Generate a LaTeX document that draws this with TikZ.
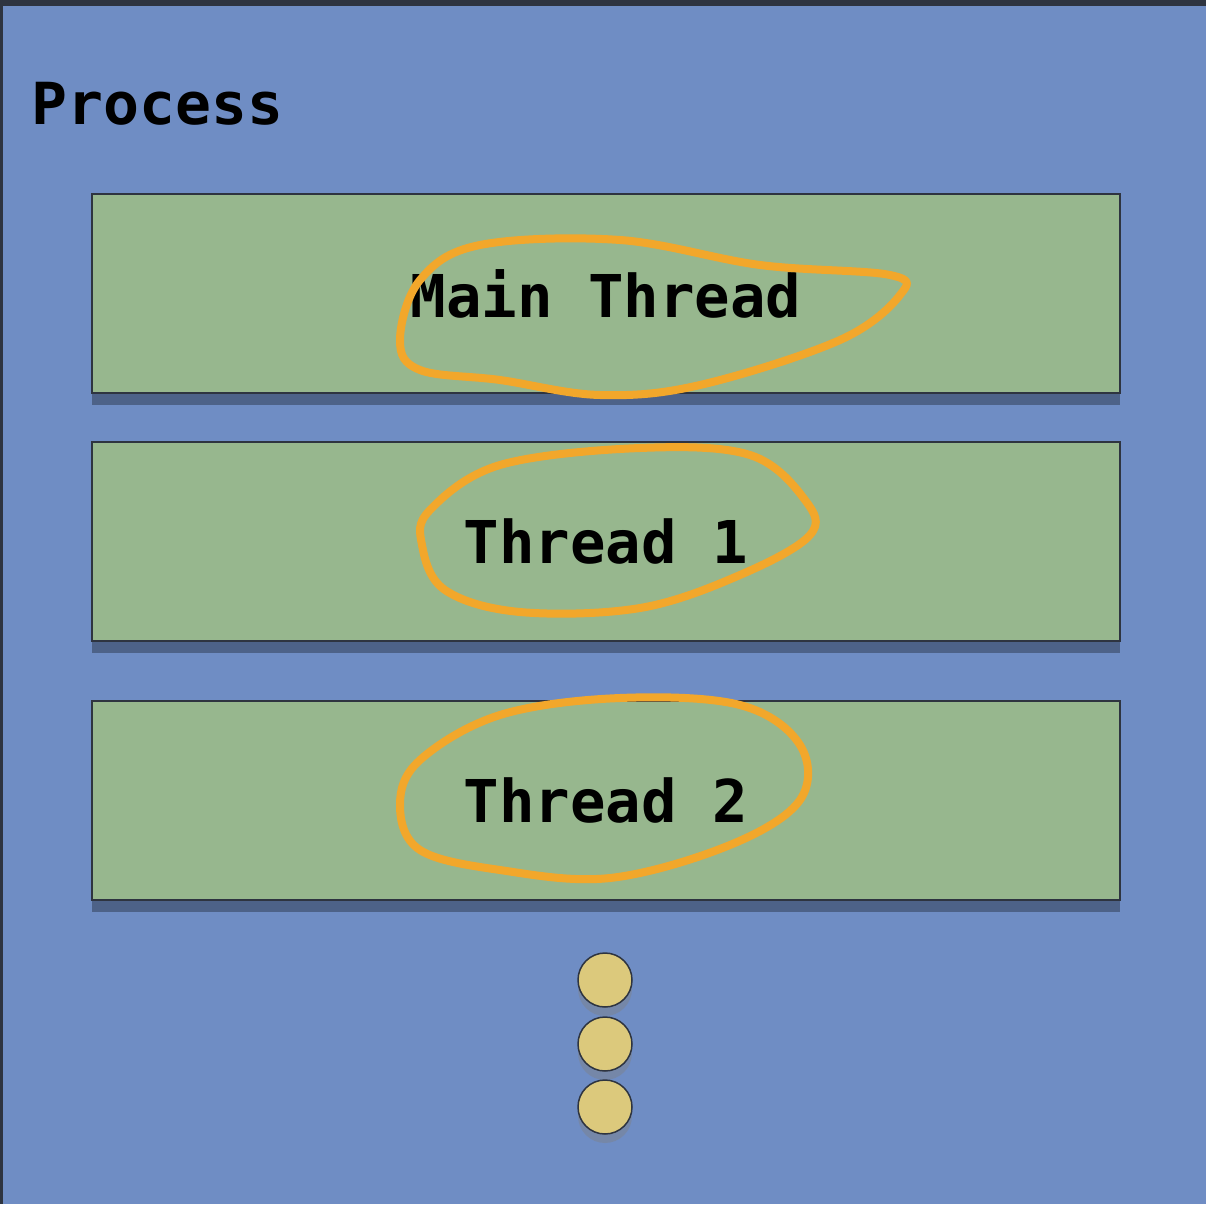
\documentclass[tikz,border=0pt]{standalone}
\usepackage{fontspec}
\setmonofont{DejaVu Sans Mono}
\usetikzlibrary{shadows}
\definecolor{bgblue}{HTML}{6F8DC4}
\definecolor{boxgreen}{HTML}{97B78E}
\definecolor{edge}{HTML}{2E3440}
\definecolor{scrib}{HTML}{F2A72B}
\definecolor{dotc}{HTML}{DCC97C}
\begin{document}
\begin{tikzpicture}[x=1pt,y=-1pt,
  thr/.style={draw=edge,line width=1.5pt,fill=boxgreen,minimum width=1028pt,minimum height=199pt,inner sep=0pt,
    drop shadow={shadow xshift=0pt,shadow yshift=-12pt,opacity=0.3,fill=black},
    font=\ttfamily\bfseries\fontsize{59}{62}\selectfont},
  dotn/.style={circle,draw=edge,line width=1.5pt,fill=dotc,minimum size=54pt,inner sep=0pt,
    drop shadow={shadow xshift=0pt,shadow yshift=-9pt,opacity=0.4}},
  scr/.style={draw=scrib,line width=8pt,line cap=round,line join=round}]
\useasboundingbox (0,0) rectangle (1206,1204);
\fill[edge] (0,0) rectangle (1206,1204);
\fill[bgblue] (3,6) rectangle (1206,1204);
\node[anchor=west,font=\ttfamily\bfseries\fontsize{58}{60}\selectfont,xscale=1.03] (proc) at (28,104) {Process};
\node[thr] (main) at (606,293.5) {Main Thread};
\node[thr] (t1) at (606,541.5) {Thread 1};
\node[thr] (t2) at (606,800.5) {Thread 2};
\node[dotn] (d1) at (605,980) {};
\node[dotn] (d2) at (605,1044) {};
\node[dotn] (d3) at (605,1107) {};
\draw[scr] plot[smooth cycle,tension=0.6] coordinates {(420,280) (480,245) (620,240) (760,265) (890,275) (900,295) (840,340) (700,385) (600,395) (500,380) (420,370) (400,340)};
\draw[scr] plot[smooth cycle,tension=0.6] coordinates {(430,510) (500,465) (640,448) (750,455) (805,500) (810,535) (740,575) (640,608) (520,612) (445,590) (422,545)};
\draw[scr] plot[smooth cycle,tension=0.6] coordinates {(420,760) (500,715) (620,698) (740,705) (800,745) (800,800) (730,845) (610,878) (500,870) (420,850) (400,805)};
\end{tikzpicture}
\end{document}
